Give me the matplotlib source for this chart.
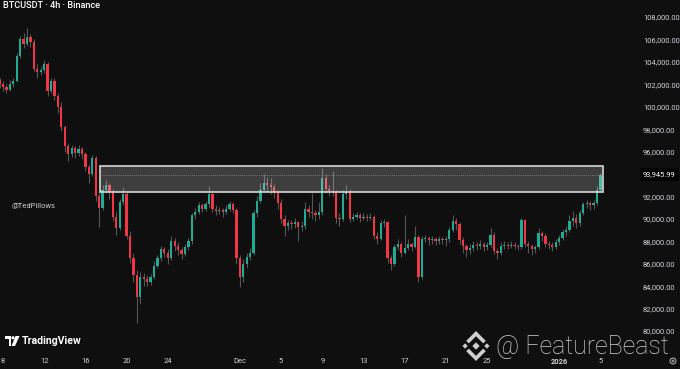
import numpy as np
import matplotlib.pyplot as plt
import matplotlib.transforms as mtransforms
from matplotlib.patches import Rectangle, Polygon, Circle

first_open = 102.4
closes = [
    102.0,
    101.8, 101.5, 102.0,   # Nov 8
    102.3, 104.5, 106.0,   # Nov 9
    105.6, 106.2, 105.8,   # Nov 10
    103.4, 103.1, 103.3,   # Nov 11
    103.8, 101.4, 102.3,   # Nov 12
    101.0, 100.0, 98.2,    # Nov 13
    96.5, 95.8, 96.3,      # Nov 14
    95.9, 96.2, 95.8,      # Nov 15
    94.6, 94.0, 95.4,      # Nov 16
    92.0, 91.0, 92.6,      # Nov 17
    93.0, 92.4, 90.2,      # Nov 18
    89.2, 91.5, 92.2,      # Nov 19
    88.5, 86.5, 85.0,      # Nov 20
    83.0, 84.8, 84.6,      # Nov 21
    84.4, 84.8, 85.8,      # Nov 22
    86.5, 87.3, 87.0,      # Nov 23
    86.5, 88.0, 87.6,      # Nov 24
    87.2, 86.9, 87.5,      # Nov 25
    88.0, 90.3, 90.6,      # Nov 26
    91.2, 90.9, 91.3,      # Nov 27
    92.2, 90.9, 90.7,      # Nov 28
    90.8, 90.6, 90.9,      # Nov 29
    91.3, 90.8, 86.5,      # Nov 30
    84.8, 86.0, 86.6,      # Dec 1
    87.0, 90.5, 91.6,      # Dec 2
    92.6, 93.2, 93.0,      # Dec 3
    92.8, 92.3, 91.4,      # Dec 4
    90.0, 89.4, 89.6,      # Dec 5
    89.5, 89.7, 89.3,      # Dec 6
    89.4, 90.9, 90.6,      # Dec 7
    90.5, 90.3, 90.6,      # Dec 8
    93.6, 92.7, 92.5,      # Dec 9
    92.4, 90.1, 90.0,      # Dec 10
    92.2, 92.4, 90.0,      # Dec 11
    90.2, 90.3, 90.1,      # Dec 12
    90.2, 90.1, 90.2,      # Dec 13
    88.5, 88.2, 89.6,      # Dec 14
    89.7, 86.5, 86.0,      # Dec 15
    87.5, 87.8, 87.0,      # Dec 16
    87.4, 87.8, 87.5,      # Dec 17
    88.4, 84.8, 88.2,      # Dec 18
    88.3, 88.1, 88.2,      # Dec 19
    88.0, 88.2, 88.1,      # Dec 20
    88.2, 89.0, 89.8,      # Dec 21
    89.5, 88.1, 87.6,      # Dec 22
    87.2, 87.4, 87.7,      # Dec 23
    87.6, 87.8, 87.5,      # Dec 24
    87.7, 88.6, 87.1,      # Dec 25
    87.0, 87.6, 87.7,      # Dec 26
    87.6, 87.7, 87.6,      # Dec 27
    87.5, 89.9, 87.8,      # Dec 28
    87.6, 87.3, 87.5,      # Dec 29
    88.7, 88.5, 87.8,      # Dec 30
    87.7, 87.5, 87.9,      # Dec 31
    88.3, 88.8, 89.0,      # Jan 1
    89.8, 90.1, 89.6,      # Jan 2
    90.5, 91.3, 91.4,      # Jan 3
    91.2, 91.4, 92.6,      # Jan 4
    93.946,                # Jan 5
]
highs = [
    102.6,
    102.3, 102.0, 102.4,
    102.6, 104.8, 106.3,
    106.6, 107.0, 106.5,
    106.0, 103.8, 103.6,
    104.2, 104.0, 102.6,
    102.6, 101.2, 100.4,
    98.4, 96.8, 96.6,
    96.5, 96.6, 96.4,
    96.0, 94.9, 95.7,
    95.6, 92.4, 93.0,
    93.5, 93.2, 92.7,
    90.6, 91.8, 92.8,
    92.4, 88.9, 87.0,
    85.4, 85.3, 85.2,
    85.0, 85.1, 86.2,
    86.8, 87.6, 87.5,
    87.3, 88.5, 88.3,
    87.9, 87.5, 87.8,
    88.3, 90.5, 91.0,
    91.5, 91.4, 91.6,
    92.9, 92.4, 91.2,
    91.1, 91.0, 91.2,
    91.6, 91.5, 91.0,
    86.8, 86.4, 87.0,
    87.4, 90.8, 92.0,
    93.2, 94.0, 93.7,
    93.6, 93.1, 92.6,
    91.8, 90.3, 89.9,
    89.9, 90.1, 89.8,
    89.8, 91.5, 91.2,
    92.3, 90.8, 91.5,
    94.5, 94.0, 93.0,
    94.3, 92.6, 90.5,
    92.6, 93.0, 92.7,
    90.5, 90.6, 90.5,
    90.5, 90.4, 90.5,
    90.3, 88.8, 89.9,
    90.0, 89.8, 86.8,
    87.8, 88.2, 87.9,
    90.3, 88.2, 87.9,
    89.4, 88.6, 88.5,
    88.6, 88.5, 88.5,
    88.4, 88.5, 88.4,
    88.5, 89.3, 90.3,
    90.1, 89.7, 88.4,
    87.8, 87.8, 88.0,
    87.9, 88.1, 87.9,
    87.9, 89.2, 88.8,
    87.4, 87.9, 88.0,
    87.9, 88.0, 87.9,
    87.8, 90.1, 90.0,
    88.0, 87.8, 87.7,
    89.2, 88.9, 88.7,
    88.0, 87.9, 88.2,
    88.6, 89.1, 89.4,
    90.3, 90.7, 90.4,
    90.8, 91.5, 91.7,
    91.6, 91.7, 92.9,
    94.1,
]
lows = [
    101.7,
    101.4, 101.2, 101.4,
    101.8, 102.2, 104.3,
    105.2, 105.4, 105.3,
    103.2, 102.6, 102.8,
    103.0, 101.0, 101.2,
    100.6, 99.4, 97.8,
    96.0, 95.2, 95.5,
    95.4, 95.6, 95.3,
    94.3, 93.2, 93.8,
    91.6, 89.3, 90.8,
    92.3, 91.8, 89.8,
    88.6, 89.0, 91.2,
    88.2, 86.1, 84.4,
    80.7, 82.4, 84.0,
    84.0, 84.1, 84.6,
    85.6, 86.2, 86.6,
    86.0, 86.3, 87.1,
    86.8, 86.4, 86.7,
    87.2, 87.8, 90.0,
    90.4, 90.6, 90.7,
    91.1, 90.6, 90.3,
    90.4, 90.2, 90.4,
    90.7, 90.5, 86.0,
    83.9, 84.4, 85.6,
    86.3, 86.8, 90.2,
    91.4, 92.4, 92.5,
    92.2, 91.9, 90.9,
    89.6, 88.5, 89.0,
    89.1, 89.2, 88.0,
    88.9, 89.1, 90.2,
    90.0, 89.8, 90.0,
    90.3, 92.3, 92.0,
    92.0, 89.6, 89.4,
    89.8, 91.8, 89.7,
    89.8, 90.0, 89.7,
    89.9, 89.8, 89.9,
    88.2, 87.8, 88.1,
    89.3, 86.1, 85.4,
    85.8, 87.2, 86.6,
    86.9, 87.2, 87.1,
    87.4, 84.4, 84.6,
    87.9, 87.7, 87.8,
    87.7, 87.8, 87.8,
    87.6, 87.9, 88.8,
    89.0, 87.8, 87.0,
    86.6, 86.9, 87.1,
    87.2, 87.3, 87.1,
    87.2, 87.5, 86.9,
    86.4, 86.8, 87.3,
    87.3, 87.4, 87.3,
    87.2, 87.3, 87.5,
    87.0, 86.8, 87.0,
    87.3, 88.0, 87.5,
    87.3, 87.1, 87.3,
    87.7, 88.1, 88.5,
    88.8, 89.4, 89.2,
    89.4, 90.3, 91.0,
    90.8, 90.9, 91.2,
    92.4,
]

date_ticks = [0, 4, 8, 12, 16, 23, 27, 31, 35, 39, 43, 47, 54, 58]   # days after Nov 8
date_labels = ["8", "12", "16", "20", "24", "Dec", "5", "9", "13", "17", "21", "25", "2026", "5"]
price_ticks = [80000, 82000, 84000, 86000, 88000, 90000, 92000, 96000,
               98000, 100000, 102000, 104000, 106000, 108000]
last_price = 93945.99
zone_low, zone_high = 92400, 94700
zone_start, zone_end = 9.42, 58.25

BG = "#0f0f0f"
UP = "#22ab94"
DOWN = "#f23645"
WICK = "#555555"
TXT = "#d1d4dc"

c = np.array(closes) * 1000
h = np.array(highs) * 1000
l = np.array(lows) * 1000
o = np.concatenate([[first_open * 1000], c[:-1]])
h = np.maximum(h, np.maximum(o, c))
l = np.minimum(l, np.minimum(o, c))
t = -1 / 3 + np.arange(len(c)) / 3

fig = plt.figure(figsize=(6.8, 3.69), dpi=100, facecolor=BG)
ax = fig.add_axes([0, 19 / 369, 632 / 680, 350 / 369], facecolor=BG)

up = c >= o
colors = np.where(up, UP, DOWN)
ax.vlines(t, l, h, color=WICK, linewidth=0.8, zorder=2)
body = np.maximum(np.abs(c - o), 90)
ax.bar(t, body, bottom=np.minimum(o, c), width=0.22, color=colors, linewidth=0, zorder=3)

# resistance zone
ax.add_patch(Rectangle((zone_start, zone_low), zone_end - zone_start, zone_high - zone_low,
                       facecolor="white", alpha=0.2, edgecolor="none", zorder=4))
ax.add_patch(Rectangle((zone_start, zone_low), zone_end - zone_start, zone_high - zone_low,
                       facecolor="none", edgecolor="#d6d6d6", linewidth=1.2, zorder=5))
ax.plot([zone_start, zone_end], [last_price, last_price], color="#8a8a8a",
        linewidth=0.6, linestyle=(0, (1, 1.5)), zorder=5)

ax.set_xlim(-0.291, 61.07)
ax.set_ylim(78306, 109516)
for s in ax.spines.values():
    s.set_visible(False)

ax.yaxis.tick_right()
ax.set_yticks(price_ticks)
ax.set_yticklabels([f"{p:,.2f}" for p in price_ticks])
ax.tick_params(axis="y", length=0, pad=8, labelsize=5.4, labelcolor=TXT)
ax.set_xticks(date_ticks)
ax.set_xticklabels(date_labels)
ax.tick_params(axis="x", length=0, pad=6, labelsize=5.4, labelcolor=TXT)
for lab in ax.get_xticklabels():
    lab.set_family("Roboto")
    if lab.get_text() == "2026":
        lab.set_fontweight("bold")
for lab in ax.get_yticklabels():
    lab.set_family("Roboto")

trans = mtransforms.blended_transform_factory(ax.transAxes, ax.transData)
ax.text(1.0174, last_price, f"{last_price:,.2f}", transform=trans, ha="left", va="center",
        fontsize=5.4, family="Roboto", color="white",
        bbox=dict(boxstyle="square,pad=0.45", fc="black", ec="none"))

# overlay in pixel coordinates for the texts and logos
ov = fig.add_axes([0, 0, 1, 1], facecolor="none")
ov.set_xlim(0, 680)
ov.set_ylim(369, 0)
ov.axis("off")

ov.text(3, 6, "BTCUSDT · 4h · Binance", fontsize=6.6, family="Roboto", fontweight="medium",
        color="white", ha="left", va="center")
ov.text(12, 206, "@TedPillows", fontsize=5.5, family="Roboto", color="#cccccc",
        ha="left", va="center")

# TradingView mark
ov.add_patch(Polygon([(5, 336), (11, 336), (11, 346), (8.5, 346), (8.5, 339), (5, 339)],
                     closed=True, fc="white", ec="none"))
ov.add_patch(Circle((13, 337.8), 1.6, fc="white", ec="none"))
ov.add_patch(Polygon([(15.5, 336), (19.5, 336), (15, 346), (11.5, 346)], closed=True,
                     fc="white", ec="none"))
ov.text(22, 341.5, "TradingView", fontsize=7.6, family="Roboto", fontweight="bold",
        color="white", ha="left", va="center")

# Binance mark + watermark
cx, cy = 476, 346
wm = "#cfcfcf"
sc = 1.15
top = [(-8.5, -4.5), (0, -13), (8.5, -4.5), (6.25, -2.25), (0, -8.5), (-6.25, -2.25)]
ov.add_patch(Polygon([(cx + sc * x, cy + sc * y) for x, y in top], closed=True, fc=wm, ec="none"))
ov.add_patch(Polygon([(cx + sc * x, cy - sc * y) for x, y in top], closed=True, fc=wm, ec="none"))
ov.add_patch(Polygon([(cx, cy - 3.2 * sc), (cx + 3.2 * sc, cy), (cx, cy + 3.2 * sc),
                      (cx - 3.2 * sc, cy)], closed=True, fc=wm, ec="none"))
for dx in (-9.5 * sc, 9.5 * sc):
    ov.add_patch(Polygon([(cx + dx, cy - 2.3 * sc), (cx + dx + 2.3 * sc, cy),
                          (cx + dx, cy + 2.3 * sc), (cx + dx - 2.3 * sc, cy)],
                         closed=True, fc=wm, ec="none"))
ov.text(496, 347, "@ FeatureBeast", fontsize=18.0, family="Roboto", fontweight="light",
        color=wm, ha="left", va="center")

# settings gear
ov.add_patch(Circle((673, 361), 3.0, fc="none", ec=TXT, linewidth=0.6))
ov.add_patch(Circle((673, 361), 1.0, fc="none", ec=TXT, linewidth=0.5))

fig.savefig("out.png", dpi=100, facecolor=BG)
